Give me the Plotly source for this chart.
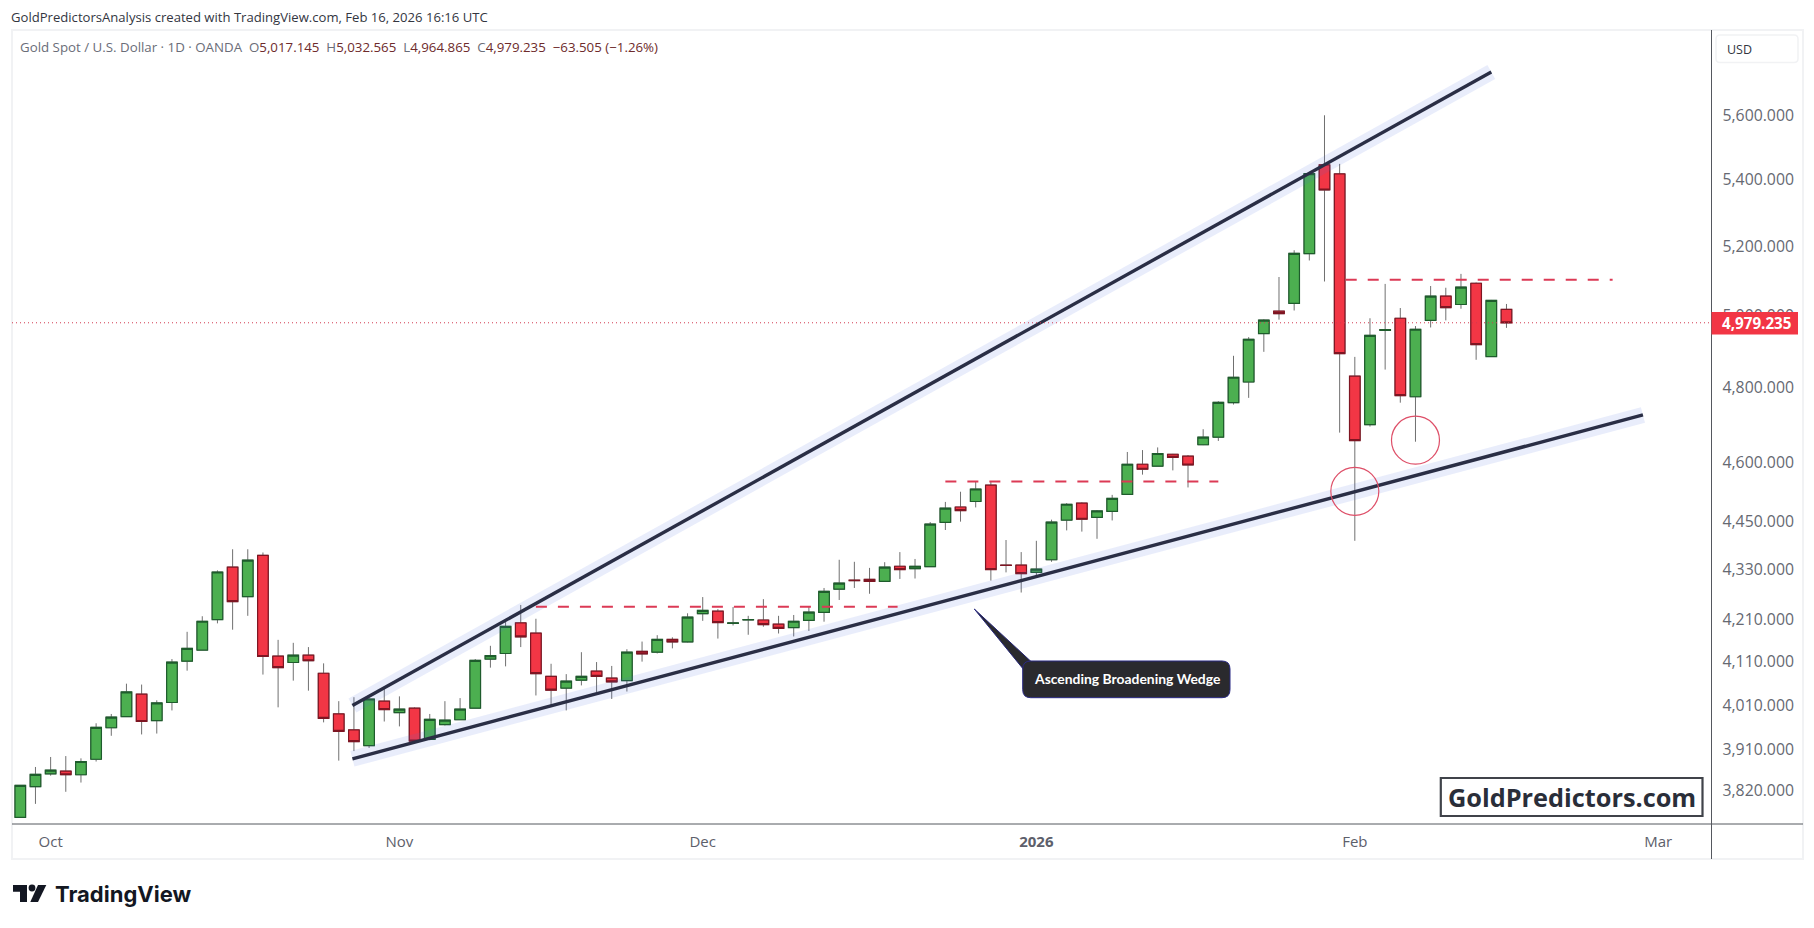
import numpy as np
import plotly.graph_objects as go

W, H = 1814, 928

# Daily OHLC for XAU/USD, one entry per trading session from late September 2025
opens = [3763, 3829, 3857, 3863, 3855, 3889, 3959, 3984, 4035, 3975,
         4016, 4111, 4137, 4209, 4336, 4264, 4365, 4123, 4108, 4125,
         4083, 3990, 3954, 3919, 4019, 3993, 4003, 3933, 3966, 3977,
         4003, 4116, 4129, 4201, 4177, 4076, 4049, 4067, 4088, 4072,
         4066, 4134, 4132, 4162, 4156, 4223, 4229, 4200, 4208, 4208,
         4198, 4190, 4207, 4226, 4282, 4304, 4306, 4301, 4338, 4332,
         4337, 4447, 4486, 4500, 4542, 4341, 4341, 4323, 4354, 4453,
         4496, 4460, 4475, 4518, 4596, 4591, 4622, 4617, 4647, 4667,
         4759, 4815, 4949, 5012, 5034, 5178, 5445, 5417, 4831, 4700,
         4958, 4992, 4775, 4986, 5055, 5031, 5092, 4885, 5017.145]
highs = [3832, 3872, 3894, 3896, 3891, 3969, 3990, 4059, 4057, 4021,
         4116, 4180, 4217, 4328, 4380, 4380, 4372, 4161, 4154, 4144,
         4106, 4019, 4028, 4026, 4047, 4030, 4005, 3990, 4019, 4026,
         4116, 4147, 4208, 4244, 4211, 4105, 4081, 4132, 4109, 4100,
         4139, 4157, 4172, 4167, 4224, 4263, 4234, 4239, 4218, 4258,
         4218, 4220, 4240, 4285, 4354, 4349, 4334, 4348, 4373, 4356,
         4448, 4499, 4525, 4550, 4551, 4403, 4373, 4401, 4454, 4496,
         4498, 4478, 4517, 4628, 4633, 4640, 4623, 4620, 4688, 4763,
         4887, 4939, 4989, 5110, 5188, 5420, 5600, 5448, 4884, 4992,
         5090, 5021, 4970, 5084, 5079, 5119, 5094, 5044, 5032.565]
lows = [3763, 3792, 3853, 3818, 3838, 3884, 3941, 3984, 3944, 3946,
        3998, 4089, 4137, 4200, 4185, 4218, 4080, 4005, 4066, 4043,
        3971, 3886, 3907, 3914, 3973, 3962, 3929, 3931, 3964, 3977,
        4003, 4096, 4099, 4144, 4032, 4007, 3998, 4055, 4040, 4024,
        4041, 4110, 4129, 4141, 4155, 4206, 4164, 4195, 4173, 4192,
        4176, 4169, 4182, 4204, 4256, 4285, 4271, 4301, 4307, 4308,
        4337, 4428, 4449, 4485, 4303, 4323, 4274, 4310, 4349, 4427,
        4424, 4406, 4452, 4518, 4569, 4591, 4580, 4536, 4646, 4657,
        4754, 4772, 4898, 4988, 5014, 5158, 5097, 4679, 4401, 4695,
        4849, 4759, 4655, 4966, 4986, 5019, 4876, 4885, 4964.865]
closes = [3832, 3856, 3865, 3855, 3884, 3960, 3983, 4040, 3973, 4015,
          4109, 4141, 4205, 4324, 4252, 4353, 4122, 4096, 4125, 4112,
          3980, 3951, 3928, 4024, 4000, 4001, 3929, 3978, 3976, 4001,
          4113, 4124, 4193, 4168, 4082, 4044, 4065, 4076, 4076, 4063,
          4132, 4128, 4162, 4156, 4215, 4231, 4202, 4201, 4209, 4197,
          4188, 4205, 4227, 4277, 4297, 4303, 4301, 4336, 4330, 4338,
          4443, 4483, 4477, 4532, 4330, 4340, 4320, 4331, 4448, 4493,
          4455, 4476, 4508, 4596, 4583, 4624, 4614, 4594, 4667, 4760,
          4828, 4933, 4987, 5005, 5179, 5418, 5368, 4893, 4658, 4944,
          4960, 4778, 4961, 5055, 5022, 5081, 4918, 5042.74, 4979.235]

# Time axis: session index of the first bar of each month
month_ticks = [2, 25, 45, 67, 88, 108]
month_labels = ["Oct", "Nov", "Dec", "<b>2026</b>", "Feb", "Mar"]

# Price axis labels
price_ticks = [5600, 5400, 5200, 5000, 4800, 4600, 4450, 4330, 4210, 4110, 4010, 3910, 3820]
price_labels = [f"{p:,.3f}" for p in price_ticks]

# Wedge boundaries, as (bar index, price) pairs
upper_bar = [21.9, 97.0]
upper_price = [4009, 5739]
lower_bar = [21.9, 107.0]
lower_price = [3890, 4726]

# Horizontal resistance levels, dashed
levels = [
    ([34, 57.85], 4240),
    ([61, 79], 4551),
    ([87.4, 105], 5102),
]

# Wicks touching the lower boundary, ringed
ring_bar = [88, 92]
ring_price = [4526, 4659]

last_price = closes[-1]

X0, X1, Y0, Y1 = 12, 1711.5, 30, 824
BAR_RANGE = [-0.547, 111.52]
PRICE_RANGE = [np.log10(3749), np.log10(5877)]


def px(x):
    return x / W


def py(y):
    return 1 - y / H


def path(points, close=True):
    s = "M" + " L".join(f"{px(x):.5f},{py(y):.5f}" for x, y in points)
    return s + (" Z" if close else "")


def rounded(x0, y0, x1, y1, r):
    def p(x, y):
        return f"{px(x):.5f},{py(y):.5f}"
    return (f"M{p(x0 + r, y0)} L{p(x1 - r, y0)} Q{p(x1, y0)} {p(x1, y0 + r)} "
            f"L{p(x1, y1 - r)} Q{p(x1, y1)} {p(x1 - r, y1)} L{p(x0 + r, y1)} "
            f"Q{p(x0, y1)} {p(x0, y1 - r)} L{p(x0, y0 + r)} Q{p(x0, y0)} {p(x0 + r, y0)} Z")


def paper_rect(x0, y0, x1, y1, **kw):
    return dict(type="rect", xref="paper", yref="paper", x0=px(x0), x1=px(x1),
                y0=py(y0), y1=py(y1), **kw)


def paper_line(x0, y0, x1, y1, color, width=1):
    return dict(type="line", xref="paper", yref="paper", x0=px(x0), x1=px(x1),
                y0=py(y0), y1=py(y1), line=dict(color=color, width=width), layer="above")


def label(x, y, text, size, color, anchor="left", family="Open Sans", **kw):
    return dict(xref="paper", yref="paper", x=px(x), y=py(y), text=text, showarrow=False,
                xanchor=anchor, yanchor="middle", align=anchor,
                font=dict(family=family, size=size, color=color), **kw)


bars = list(range(len(opens)))
body_top = np.maximum(opens, closes)
body_bottom = np.minimum(opens, closes)

fig = go.Figure()

# Grey wicks first, then bodies with their darker outlines on top
fig.add_trace(go.Candlestick(
    x=bars, open=opens, high=highs, low=lows, close=closes, whiskerwidth=0,
    increasing=dict(line=dict(color="#707070", width=1), fillcolor="#707070"),
    decreasing=dict(line=dict(color="#707070", width=1), fillcolor="#707070"),
    hoverinfo="skip", showlegend=False))
fig.add_trace(go.Candlestick(
    x=bars, open=opens, high=body_top, low=body_bottom, close=closes, whiskerwidth=0,
    increasing=dict(line=dict(color="#1e5c2c", width=1.2), fillcolor="#4caf50"),
    decreasing=dict(line=dict(color="#7e1522", width=1.2), fillcolor="#f23645"),
    hoverinfo="skip", showlegend=False))

# Wedge: pale channel band under a dark line
for xs, ys in ((upper_bar, upper_price), (lower_bar, lower_price)):
    fig.add_trace(go.Scatter(x=xs, y=ys, mode="lines", hoverinfo="skip", showlegend=False,
                             line=dict(color="rgba(70,110,225,0.12)", width=16)))
    fig.add_trace(go.Scatter(x=xs, y=ys, mode="lines", hoverinfo="skip", showlegend=False,
                             line=dict(color="#2a2e45", width=3.4)))

for xs, level in levels:
    fig.add_trace(go.Scatter(x=xs, y=[level, level], mode="lines", hoverinfo="skip", showlegend=False,
                             line=dict(color="#dc3a55", width=2, dash="11px,11px")))

# Last-price guide across the whole pane
fig.add_trace(go.Scatter(x=BAR_RANGE, y=[last_price, last_price], mode="lines", hoverinfo="skip",
                         showlegend=False, line=dict(color="#d33a50", width=1, dash="1px,3px")))

fig.add_trace(go.Scatter(x=ring_bar, y=ring_price, mode="markers", hoverinfo="skip", showlegend=False,
                         marker=dict(symbol="circle-open", size=48,
                                     line=dict(color="#de4f68", width=1.2), color="#de4f68")))

shapes = [
    # Chart frame, time axis and price axis rules
    paper_rect(12, 30, 1803, 859, line=dict(color="#f1f2f4", width=2), layer="below"),
    paper_line(12, 824, 1803, 824, "#55585f"),
    paper_line(1711.5, 30, 1711.5, 859, "#55585f"),
    # Currency chip
    dict(type="path", xref="paper", yref="paper", path=rounded(1716, 35, 1798, 62.5, 4),
         line=dict(color="#f1f2f4", width=1.5), fillcolor="#ffffff", layer="above"),
    # Last price tag
    paper_rect(1711.5, 312, 1798, 334.5, line=dict(width=0), fillcolor="#f23645", layer="above"),
    # Callout with its pointer
    dict(type="path", xref="paper", yref="paper",
         path=path([(974.3, 609), (1031, 661.5), (1024, 670)]),
         line=dict(color="#26267a", width=1), fillcolor="#2a2a2e", layer="above"),
    dict(type="path", xref="paper", yref="paper", path=rounded(1022.7, 661, 1230, 697.7, 8),
         line=dict(color="#2b2b85", width=1), fillcolor="#2a2a2e", layer="above"),
    # Site stamp
    paper_rect(1440.8, 778, 1702.5, 816, line=dict(color="#40434a", width=2.2), fillcolor="#ffffff", layer="above"),
    # TradingView mark
    dict(type="path", xref="paper", yref="paper",
         path=path([(13, 885), (27, 885), (27, 902), (20, 902), (20, 891.7), (13, 891.7)]),
         line=dict(width=0), fillcolor="#131722", layer="above"),
    dict(type="circle", xref="paper", yref="paper", x0=px(28.6), x1=px(35.4), y0=py(891.4), y1=py(884.6),
         line=dict(width=0), fillcolor="#131722", layer="above"),
    dict(type="path", xref="paper", yref="paper",
         path=path([(38, 885), (46.3, 885), (38, 902), (30.3, 902)]),
         line=dict(width=0), fillcolor="#131722", layer="above"),
]

DARK = "#6e2b2b"
GREY = "#6a6d78"
legend_text = (
    f"Gold Spot / U.S. Dollar · 1D · OANDA  O<span style='color:{DARK}'>5,017.145</span>"
    f"  H<span style='color:{DARK}'>5,032.565</span>  L<span style='color:{DARK}'>4,964.865</span>"
    f"  C<span style='color:{DARK}'>4,979.235</span>  <span style='color:{DARK}'>−63.505 (−1.26%)</span>"
)

annotations = [
    label(9, 17, "GoldPredictorsAnalysis created with TradingView.com, Feb 16, 2026 16:16 UTC", 13.1, "#33363f"),
    label(18, 47, legend_text, 13.3, GREY),
    label(1724.5, 49, "USD", 12.5, "#33363f"),
    label(1792.5, 323, f"<b>{last_price:,.3f}</b>", 15.2, "#ffffff", anchor="right"),
    label(1126.5, 678.5, "<b>Ascending Broadening Wedge</b>", 13.9, "#ffffff", anchor="center", family="Lato"),
    label(1571.5, 797, "<b>GoldPredictors.com</b>", 25.3, "#2a2e39", anchor="center", family="Open Sans"),
    label(53, 894, "<b>TradingView</b>", 22, "#131722", family="Inter"),
]

fig.update_layout(
    width=W, height=H, autosize=False,
    margin=dict(l=0, r=0, t=0, b=0),
    paper_bgcolor="#ffffff", plot_bgcolor="#ffffff",
    showlegend=False, dragmode=False,
    boxgap=0.3, boxgroupgap=0, boxmode="overlay",
    shapes=shapes, annotations=annotations,
    xaxis=dict(
        domain=[px(X0), px(X1)], range=BAR_RANGE, type="linear",
        rangeslider=dict(visible=False),
        tickmode="array", tickvals=month_ticks, ticktext=month_labels,
        showgrid=False, zeroline=False, showline=False, ticks="", ticklabelstandoff=7,
        tickfont=dict(family="Open Sans", size=15, color="#5d606b"),
    ),
    yaxis=dict(
        domain=[py(Y1), py(Y0)], range=PRICE_RANGE, type="log", side="right",
        tickmode="array", tickvals=price_ticks, ticktext=price_labels,
        showgrid=False, zeroline=False, showline=False, ticks="", ticklabelstandoff=10,
        tickfont=dict(family="Open Sans", size=15.8, color="#666972"),
    ),
)

fig.write_html("out.html", config=dict(displayModeBar=False))
